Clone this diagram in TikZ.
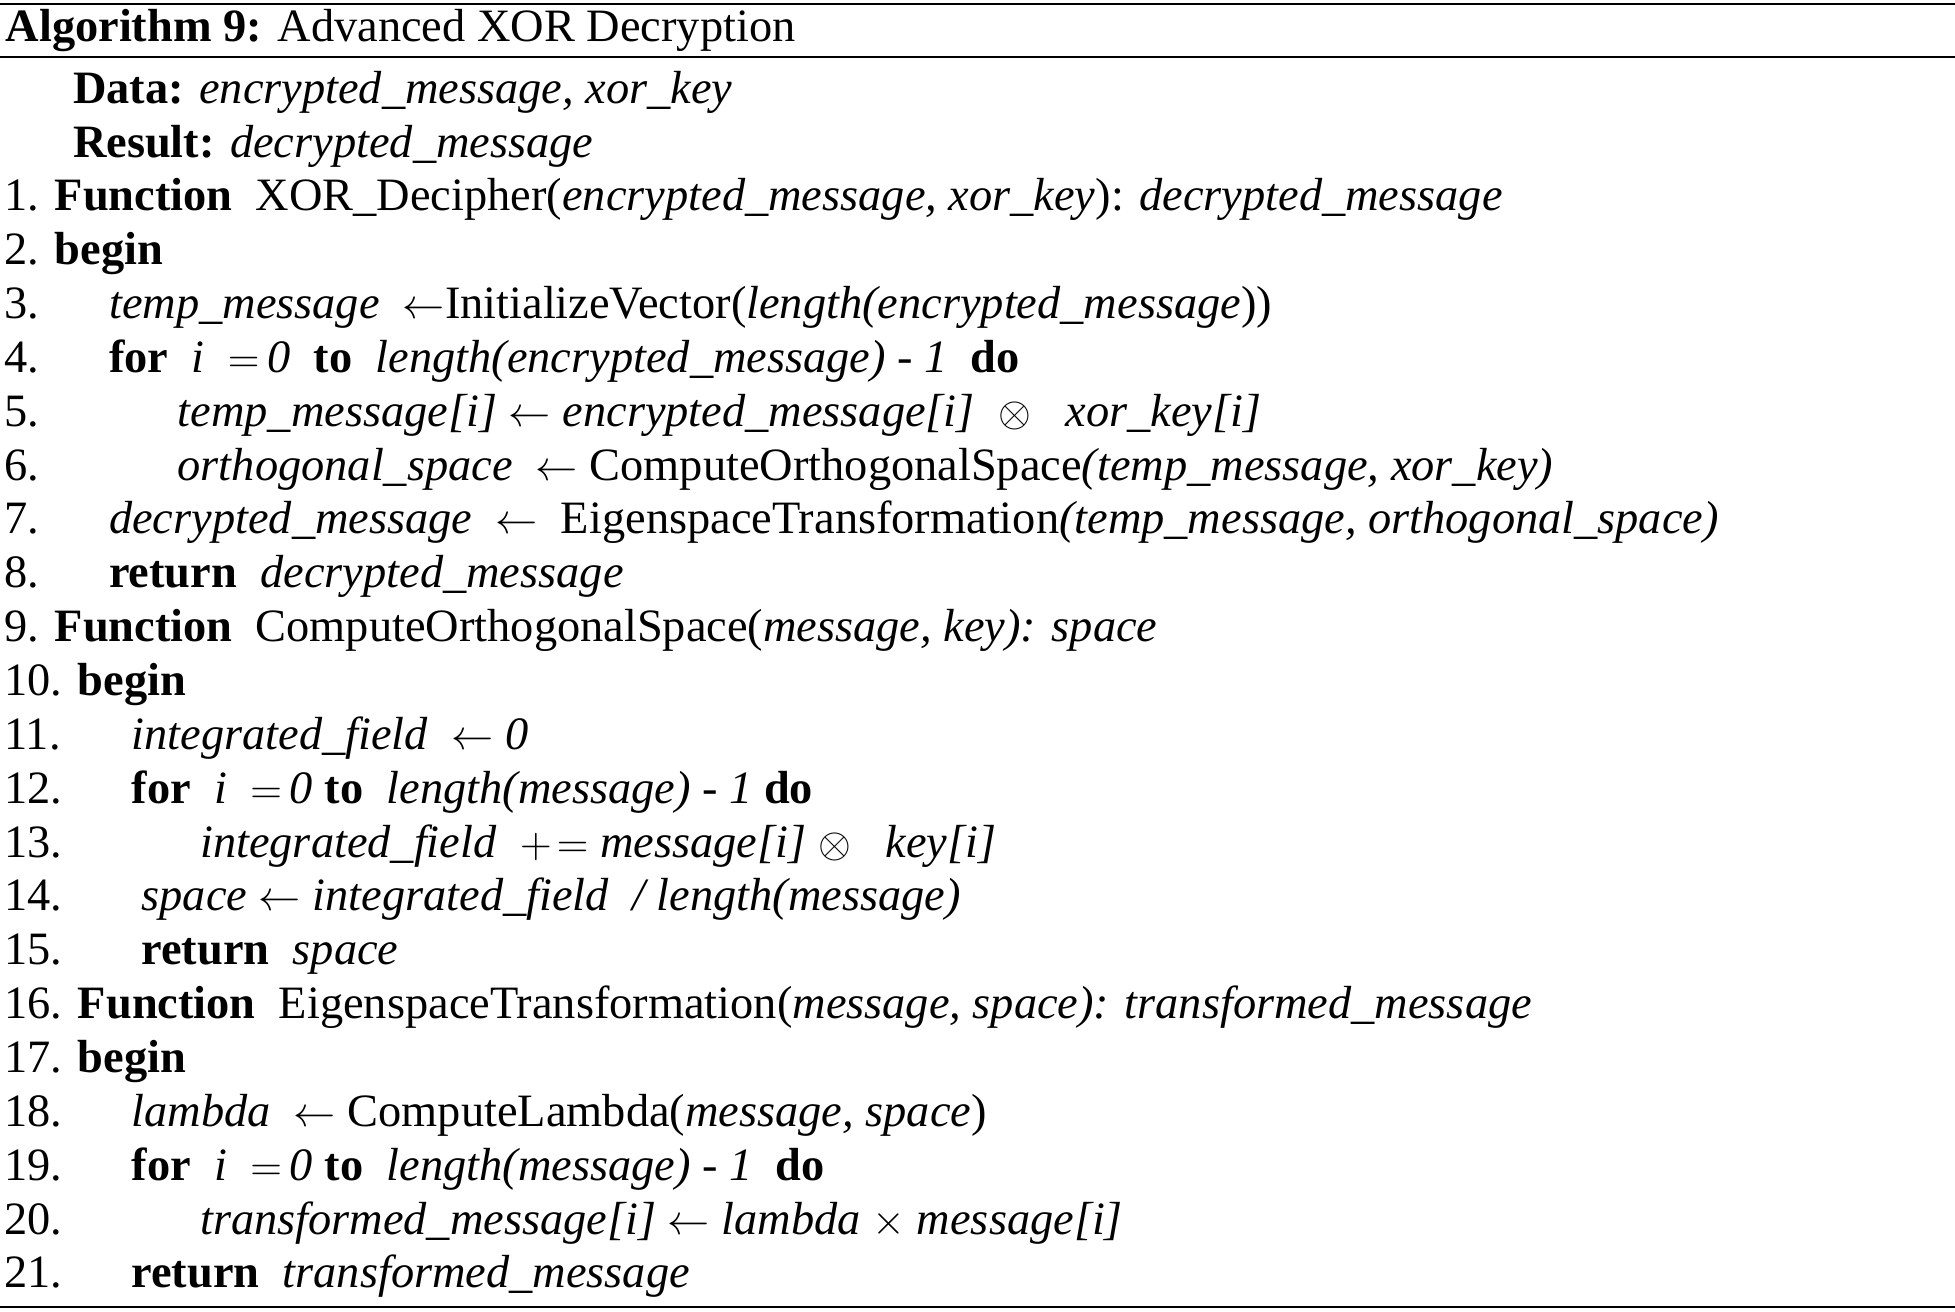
\documentclass[tikz,border=0pt]{standalone}
\usepackage{fontspec}
\setmainfont{Liberation Serif}
\usepackage{amsmath,amssymb}
\begin{document}
\begin{tikzpicture}[x=0.1247mm,y=-0.1247mm,
  t/.style={anchor=base west,inner sep=0pt,font=\fontsize{13.2}{15}\selectfont}]
\useasboundingbox (0,0) rectangle (1568,1052);
\draw[line width=0.5pt] (0,3) -- (1568,3);
\draw[line width=0.5pt] (0,46) -- (1568,46);
\draw[line width=0.5pt] (0,1048) -- (1568,1048);
\node[t] (title) at (4,33) {\textbf{Algorithm 9:} Advanced XOR Decryption};
\node[t] (data) at (58,83) {\textbf{Data:} \textit{encrypted\_message, xor\_key}};
\node[t] (res) at (58,126) {\textbf{Result:} \textit{decrypted\_message}};
\node[t] (l1) at (3,{169}) {1. \textbf{Function}\ \ XOR\_Decipher(\textit{encrypted\_message, xor\_key}): \textit{decrypted\_message}};
\node[t] (l2) at (3,{169+43.2*1}) {2. \textbf{begin}};
\node[t] (n3) at (3,{169+43.2*2}) {3.};
\node[t] (l3) at (87,{169+43.2*2}) {\textit{temp\_message}\ \ $\leftarrow$InitializeVector(\textit{length(encrypted\_message}))};
\node[t] (n4) at (3,{169+43.2*3}) {4.};
\node[t] (l4) at (87,{169+43.2*3}) {\textbf{for}\ \ \textit{i}\ \ $=$\,\textit{0}\ \ \textbf{to}\ \ \textit{length(encrypted\_message)} - \textit{1}\ \ \textbf{do}};
\node[t] (n5) at (3,{169+43.2*4}) {5.};
\node[t] (l5) at (142,{169+43.2*4}) {\textit{temp\_message[i]} $\leftarrow$ \textit{encrypted\_message[i]}\ \ $\otimes$\ \ \ \textit{xor\_key[i]}};
\node[t] (n6) at (3,{169+43.2*5}) {6.};
\node[t] (l6) at (142,{169+43.2*5}) {\textit{orthogonal\_space}\ \ $\leftarrow$ ComputeOrthogonalSpace\textit{(temp\_message, xor\_key)}};
\node[t] (n7) at (3,{169+43.2*6}) {7.};
\node[t] (l7) at (87,{169+43.2*6}) {\textit{decrypted\_message}\ \ $\leftarrow$\ \ EigenspaceTransformation\textit{(temp\_message, orthogonal\_space)}};
\node[t] (n8) at (3,{169+43.2*7}) {8.};
\node[t] (l8) at (87,{169+43.2*7}) {\textbf{return}\ \ \textit{decrypted\_message}};
\node[t] (l9) at (3,{169+43.2*8}) {9. \textbf{Function}\ \ ComputeOrthogonalSpace(\textit{message, key): space}};
\node[t] (l10) at (3,{169+43.2*9}) {10. \textbf{begin}};
\node[t] (n11) at (3,{169+43.2*10}) {11.};
\node[t] (l11) at (105,{169+43.2*10}) {\textit{integrated\_field}\ \ $\leftarrow$ \textit{0}};
\node[t] (n12) at (3,{169+43.2*11}) {12.};
\node[t] (l12) at (105,{169+43.2*11}) {\textbf{for}\ \ \textit{i}\ \ $=$\,\textit{0} \textbf{to}\ \ \textit{length(message)} - \textit{1} \textbf{do}};
\node[t] (n13) at (3,{169+43.2*12}) {13.};
\node[t] (l13) at (160,{169+43.2*12}) {\textit{integrated\_field}\ \ $+\!=$ \textit{message[i]} $\otimes$\ \ \ \textit{key[i]}};
\node[t] (n14) at (3,{169+43.2*13}) {14.};
\node[t] (l14) at (113,{169+43.2*13}) {\textit{space} $\leftarrow$ \textit{integrated\_field}\ \ \textit{/ length(message)}};
\node[t] (n15) at (3,{169+43.2*14}) {15.};
\node[t] (l15) at (113,{169+43.2*14}) {\textbf{return}\ \ \textit{space}};
\node[t] (l16) at (3,{169+43.2*15}) {16. \textbf{Function}\ \ EigenspaceTransformation(\textit{message, space): transformed\_message}};
\node[t] (l17) at (3,{169+43.2*16}) {17. \textbf{begin}};
\node[t] (n18) at (3,{169+43.2*17}) {18.};
\node[t] (l18) at (105,{169+43.2*17}) {\textit{lambda}\ \ $\leftarrow$ ComputeLambda(\textit{message, space})};
\node[t] (n19) at (3,{169+43.2*18}) {19.};
\node[t] (l19) at (105,{169+43.2*18}) {\textbf{for}\ \ \textit{i}\ \ $=$\,\textit{0} \textbf{to}\ \ \textit{length(message)} - \textit{1}\ \ \textbf{do}};
\node[t] (n20) at (3,{169+43.2*19}) {20.};
\node[t] (l20) at (160,{169+43.2*19}) {\textit{transformed\_message[i]} $\leftarrow$ \textit{lambda} $\times$ \textit{message[i]}};
\node[t] (n21) at (3,{169+43.2*20}) {21.};
\node[t] (l21) at (105,{169+43.2*20}) {\textbf{return}\ \ \textit{transformed\_message}};
\end{tikzpicture}
\end{document}
